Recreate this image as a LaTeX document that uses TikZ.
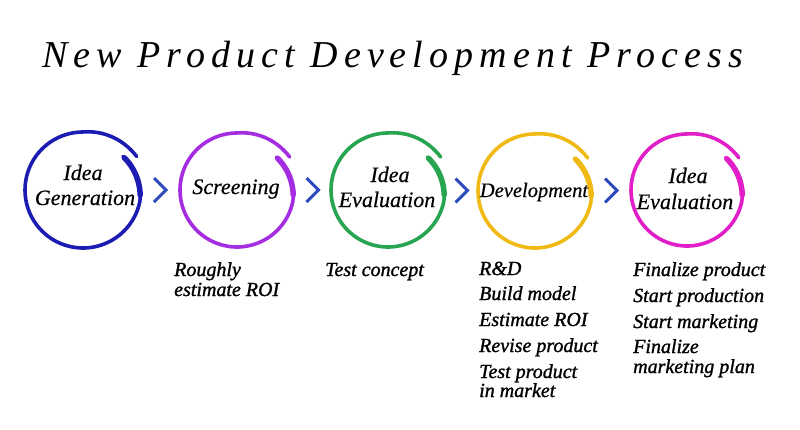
\documentclass[tikz,border=0pt]{standalone}
\usepackage{fontspec}
\setmainfont{Liberation Serif}
\newfontfamily\titlefont[LetterSpace=16]{Liberation Serif}
\newfontfamily\circfont[FakeBold=0.4]{Liberation Serif}
\newfontfamily\bodyfont[FakeBold=1.2]{Liberation Serif}
\definecolor{cblue}{RGB}{28,28,178}
\definecolor{cpurple}{RGB}{165,45,225}
\definecolor{cgreen}{RGB}{40,165,80}
\definecolor{cyellow}{RGB}{240,185,20}
\definecolor{cmagenta}{RGB}{225,30,200}
\definecolor{chev}{RGB}{45,75,190}
\tikzset{
  ring/.style={circle, minimum size=116pt, inner sep=0pt, draw=none},
  ctext/.style={font=\fontsize{22}{24}\selectfont\circfont\itshape, inner sep=0pt, anchor=base},
  btext/.style={font=\fontsize{20}{22}\selectfont\bodyfont\itshape, inner sep=0pt, anchor=base west},
  chevron/.style={draw=chev, line width=3pt, miter limit=10},
}
\newcommand{\handring}[3]{% node, colour, radius
  \begin{scope}[shift={(#1.center)}]
    \draw[#2, line width=3.6pt, line cap=round]
      plot[smooth, domain=0:368, samples=93, variable=\s]
      ({(#3)*(1-0.1*max(0,1-\s/50)+0.09*max(0,(\s-310)/58))*cos(40-\s)},
       {-(#3)*(1-0.1*max(0,1-\s/50)+0.09*max(0,(\s-310)/58))*sin(40-\s)});
    \draw[#2, line width=5.5pt, line cap=round]
      plot[smooth, domain=2:45, samples=12, variable=\s]
      ({(#3)*(1-0.1*max(0,1-\s/50))*cos(40-\s)},
       {-(#3)*(1-0.1*max(0,1-\s/50))*sin(40-\s)});
  \end{scope}
}
\newcommand{\chevronat}[1]{%
  \draw[chevron] ([shift={(-6,-12)}]#1) -- ([shift={(6,0)}]#1) -- ([shift={(-6,12)}]#1);
}
\begin{document}
\begin{tikzpicture}[x=1pt,y=-1pt]
\useasboundingbox[fill=white] (0,0) rectangle (800,429);

\node[inner sep=0pt, anchor=base west, font=\fontsize{38}{40}\selectfont\titlefont\itshape] (title) at (42,67) {New Product Development Process};

\node[ring] (c1) at (83,190) {};
\node[ring] (c2) at (237,190) {};
\node[ring] (c3) at (388,190) {};
\node[ring] (c4) at (535,191) {};
\node[ring] (c5) at (687,190) {};

\handring{c1}{cblue}{58}
\handring{c2}{cpurple}{57}
\handring{c3}{cgreen}{57}
\handring{c4}{cyellow}{57}
\handring{c5}{cmagenta}{56}

\path (c1) -- (c2) coordinate[midway] (a1);
\path (c2) -- (c3) coordinate[midway] (a2);
\path (c3) -- (c4) coordinate[midway] (a3);
\path (c4) -- (c5) coordinate[midway] (a4);
\chevronat{a1}
\chevronat{a2}
\chevronat{a3}
\chevronat{a4}

\node[ctext] (t1a) at (83,180) {Idea};
\node[ctext] (t1b) at (85,205) {Generation};
\node[ctext] (t2) at (236,194) {Screening};
\node[ctext] (t3a) at (390,182) {Idea};
\node[ctext] (t3b) at (387,207) {Evaluation};
\node[ctext, font=\fontsize{20.5}{22}\selectfont\circfont\itshape] (t4) at (534,197) {Development};
\node[ctext] (t5a) at (688,183) {Idea};
\node[ctext] (t5b) at (685,209) {Evaluation};

\node[btext] (s1a) at (174,276) {Roughly};
\node[btext] (s1b) at (174,296) {estimate ROI};
\node[btext] (s2) at (325,276) {Test concept};

\node[btext] (d1) at (479,275) {R\&D};
\node[btext] (d2) at (479,300) {Build model};
\node[btext] (d3) at (479,326) {Estimate ROI};
\node[btext] (d4) at (479,352) {Revise product};
\node[btext] (d5a) at (479,378) {Test product};
\node[btext] (d5b) at (479,397) {in market};

\node[btext] (f1) at (633,276) {Finalize product};
\node[btext] (f2) at (633,302) {Start production};
\node[btext] (f3) at (633,328) {Start marketing};
\node[btext] (f4a) at (633,353) {Finalize};
\node[btext] (f4b) at (633,373) {marketing plan};
\end{tikzpicture}
\end{document}
